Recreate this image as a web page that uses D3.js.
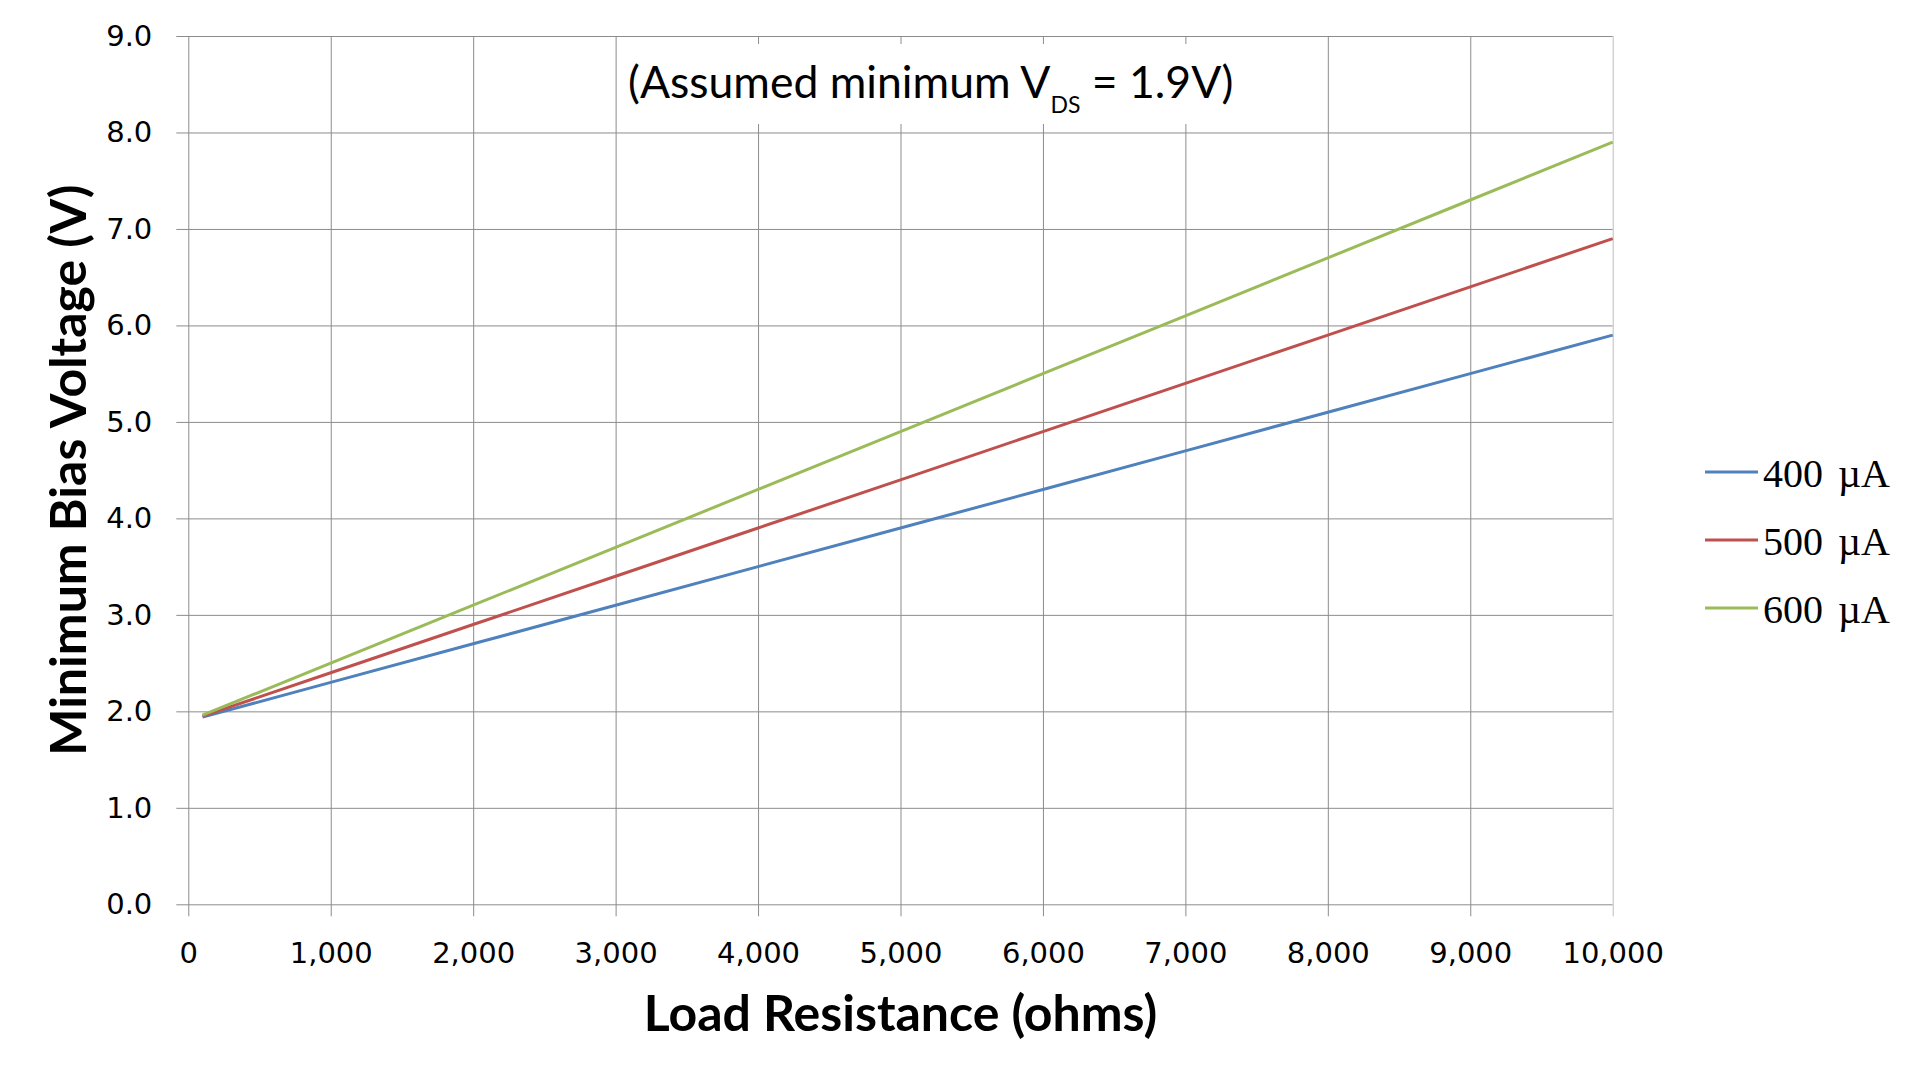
<!DOCTYPE html>
<html lang="en">
<head>
<meta charset="utf-8">
<style type="text/css">
    body { margin: 0; background: #ffffff; }
    .tick text { font-family: "DejaVu Sans", sans-serif; font-size: 29px; fill: #000; }
    .grid line { stroke: #8c8c8c; stroke-width: 1px; }
    .grid path { display: none; }
    .series { fill: none; stroke-width: 3px; }
</style>
</head>
<body>
<svg width="1920" height="1080"></svg>

<script src="https://d3js.org/d3.v7.min.js"></script>
<script type="text/javascript">
// load resistance (ohms)
var resistance = [100, 1000, 2000, 3000, 4000, 5000, 6000, 7000, 8000, 9000, 10000];
// minimum bias voltage (V) for each bias current
var v400 = [1.94, 2.3, 2.7, 3.1, 3.5, 3.9, 4.3, 4.7, 5.1, 5.5, 5.9];
var v500 = [1.95, 2.4, 2.9, 3.4, 3.9, 4.4, 4.9, 5.4, 5.9, 6.4, 6.9];
var v600 = [1.96, 2.5, 3.1, 3.7, 4.3, 4.9, 5.5, 6.1, 6.7, 7.3, 7.9];
var seriesNames = ["400 \u00b5A", "500 \u00b5A", "600 \u00b5A"];
var seriesColors = ["#4f81bd", "#c0504d", "#9bbb59"];
var xTicks = [0, 1000, 2000, 3000, 4000, 5000, 6000, 7000, 8000, 9000, 10000];
var yTicks = [0, 1, 2, 3, 4, 5, 6, 7, 8, 9];

var svg = d3.select("svg"),
    plotLeft = 188.3, plotRight = 1612.7, plotTop = 36, plotBottom = 904.3;

var x = d3.scaleLinear().domain([0, 10000]).range([plotLeft, plotRight]);
var y = d3.scaleLinear().domain([0, 9]).range([plotBottom, plotTop]);

// horizontal gridlines + y labels
var gy = svg.append("g")
    .attr("class", "grid")
    .attr("transform", "translate(" + plotLeft + ",0)")
    .call(d3.axisLeft(y).tickValues(yTicks).tickFormat(d3.format(".1f"))
        .tickSize(-(plotRight - plotLeft)).tickPadding(36));
gy.selectAll("line").attr("x1", -12);

// vertical gridlines + x labels
var gx = svg.append("g")
    .attr("class", "grid")
    .attr("transform", "translate(0," + plotBottom + ")")
    .call(d3.axisBottom(x).tickValues(xTicks).tickFormat(d3.format(","))
        .tickSize(-(plotBottom - plotTop)).tickPadding(38));
gx.selectAll("line").attr("y1", 12);
gx.selectAll(".tick").filter(function(d) { return d == 10000; })
    .select("line").style("stroke", "#bdbdbd");

// series lines
var allSeries = [v400, v500, v600];
var line = d3.line()
    .x(function(d, i) { return x(resistance[i]); })
    .y(function(d) { return y(d); });

svg.selectAll(".series")
    .data(allSeries)
    .enter().append("path")
    .attr("class", "series")
    .attr("d", line)
    .style("stroke", function(d, i) { return seriesColors[i]; });

// title box over the grid
svg.append("rect")
    .attr("x", 618).attr("y", 44)
    .attr("width", 624).attr("height", 80)
    .attr("fill", "#ffffff");

var title = svg.append("text")
    .attr("x", 628).attr("y", 98)
    .style("font-family", "Lato, sans-serif")
    .style("font-size", "44.5px");
title.append("tspan").text("(Assumed minimum V");
title.append("tspan").attr("dy", 15).style("font-size", "23px").text("DS");
title.append("tspan").attr("dy", -15).text(" = 1.9V)");

// axis titles
svg.append("text")
    .attr("x", (plotLeft + plotRight) / 2).attr("y", 1031)
    .attr("text-anchor", "middle")
    .style("font-family", "Lato, sans-serif")
    .style("font-weight", "bold")
    .style("font-size", "50px")
    .text("Load Resistance (ohms)");

svg.append("text")
    .attr("transform", "translate(86," + ((plotTop + plotBottom) / 2) + ") rotate(-90)")
    .attr("text-anchor", "middle")
    .style("font-family", "Lato, sans-serif")
    .style("font-weight", "bold")
    .style("font-size", "50px")
    .text("Minimum Bias Voltage (V)");

// legend
var legend = svg.selectAll(".legend")
    .data(seriesNames)
    .enter().append("g")
    .attr("class", "legend")
    .attr("transform", function(d, i) { return "translate(1705," + (472 + i * 68) + ")"; });

legend.append("line")
    .attr("x1", 0).attr("x2", 53)
    .style("stroke", function(d, i) { return seriesColors[i]; })
    .style("stroke-width", 3);

legend.append("text")
    .attr("x", 58).attr("y", 15)
    .style("font-family", "'Liberation Serif', serif")
    .style("font-size", "40px")
    .style("word-spacing", "5px")
    .text(function(d) { return d; });
</script>
</body>
</html>
